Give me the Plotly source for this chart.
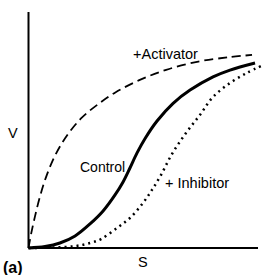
import plotly.graph_objects as go

# Data (normalized S, V)
act_s = [0, 0.012, 0.028, 0.05, 0.08, 0.12, 0.17, 0.23, 0.30, 0.38, 0.48, 0.60, 0.74, 0.87, 0.974]
act_v = [0, 0.063, 0.133, 0.218, 0.31, 0.40, 0.48, 0.55, 0.607, 0.66, 0.71, 0.755, 0.79, 0.808, 0.818]

ctl_s = [0, 0.072, 0.137, 0.203, 0.268, 0.325, 0.377, 0.412, 0.442, 0.473, 0.508, 0.560, 0.630, 0.704, 0.804, 0.878, 0.987]
ctl_v = [0, 0.006, 0.021, 0.051, 0.102, 0.157, 0.225, 0.280, 0.339, 0.403, 0.464, 0.538, 0.613, 0.669, 0.725, 0.754, 0.784]

inh_s = [0, 0.102, 0.203, 0.268, 0.316, 0.386, 0.442, 0.499, 0.538, 0.577, 0.625, 0.686, 0.747, 0.804, 0.878, 0.952, 1.022]
inh_v = [0, 0.002, 0.008, 0.021, 0.038, 0.085, 0.127, 0.191, 0.246, 0.309, 0.398, 0.487, 0.564, 0.640, 0.699, 0.742, 0.775]

FONT = "Liberation Sans"

fig = go.Figure()
fig.add_trace(go.Scatter(x=act_s, y=act_v, mode="lines",
                         line=dict(color="black", width=1.8, dash="9px,5px", shape="spline", smoothing=1.0)))
fig.add_trace(go.Scatter(x=ctl_s, y=ctl_v, mode="lines",
                         line=dict(color="black", width=3, shape="spline", smoothing=1.0)))
fig.add_trace(go.Scatter(x=inh_s, y=inh_v, mode="lines",
                         line=dict(color="black", width=2.5, dash="2px,4px", shape="spline", smoothing=1.0)))

# axes
fig.add_shape(type="line", x0=0, y0=0, x1=1, y1=0, line=dict(color="black", width=2))
fig.add_shape(type="line", x0=0, y0=0, x1=0, y1=1, line=dict(color="black", width=2))

ann = [
    ("+Activator", 0.599, 0.822, 14.5),
    ("Control", 0.322, 0.343, 14),
    ("+ Inhibitor", 0.734, 0.275, 14.5),
    ("V", -0.068, 0.487, 14.5),
    ("S", 0.498, -0.059, 14.5),
]
for t, x, y, fs in ann:
    fig.add_annotation(x=x, y=y, text=t, showarrow=False,
                       font=dict(family=FONT, size=fs, color="black"))
fig.add_annotation(x=-0.0675, y=-0.083, text="<b>(a)</b>", showarrow=False,
                   font=dict(family=FONT, size=16, color="black"))

fig.update_layout(
    width=276, height=275,
    margin=dict(l=0, r=0, t=0, b=0),
    paper_bgcolor="white", plot_bgcolor="white",
    showlegend=False,
    xaxis=dict(range=[-0.1242, 1.0784], visible=False, fixedrange=True),
    yaxis=dict(range=[-0.1144, 1.0508], visible=False, fixedrange=True),
)
fig.write_html("out.html", config={"displayModeBar": False})
